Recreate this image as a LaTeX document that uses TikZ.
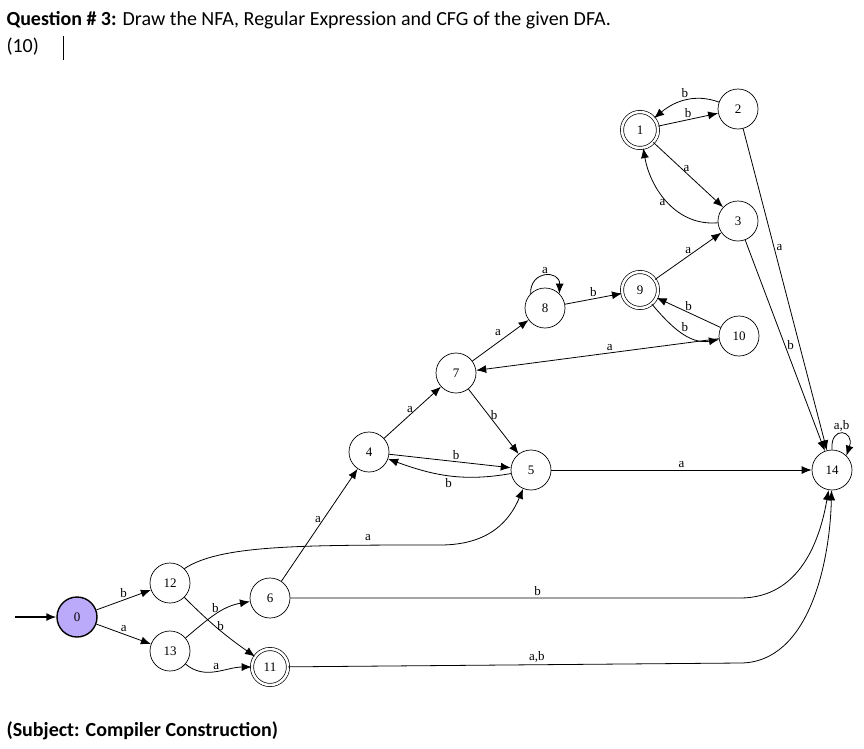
\documentclass[tikz,border=0pt]{standalone}
\usepackage{fontspec}
\setmainfont{Liberation Serif}
\newfontfamily\calfont{Carlito}
\usetikzlibrary{arrows.meta}
\begin{document}
\begin{tikzpicture}[x=1pt,y=-1pt,
 st/.style={circle,draw,minimum size=40pt,inner sep=0pt,line width=0.7pt,font=\fontsize{13}{13}\selectfont},
 acc/.style={st,double,double distance=2.5pt,minimum size=36pt},
 e/.style={-{Latex[length=10pt,width=8pt]},line width=0.8pt},
 lb/.style={font=\fontsize{13}{13}\selectfont,inner sep=2pt}]
\useasboundingbox (0,0) rectangle (864,748);
\node[anchor=west,font=\calfont\fontsize{20}{20}\selectfont] at (3,20) {\textbf{Question \# 3:} Draw the NFA, Regular Expression and CFG of the given DFA.};
\node[anchor=west,font=\calfont\fontsize{20}{20}\selectfont] at (3,47) {(10)};
\draw[line width=0.8pt] (63,36) -- (63,60);
\node[anchor=west,font=\calfont\bfseries\fontsize{20}{20}\selectfont] at (3,731) {(Subject: Compiler Construction)};
\node[st,fill={rgb,255:red,187;green,170;blue,250},line width=1.4pt] (n0) at (77,617) {0};
\node[st] (n12) at (170,583) {12};
\node[st] (n13) at (170,651) {13};
\node[st] (n6) at (270,598) {6};
\node[acc] (n11) at (270,667) {11};
\node[st] (n4) at (369,452) {4};
\node[st] (n5) at (531,470) {5};
\node[st] (n7) at (456,373) {7};
\node[st] (n8) at (545,308) {8};
\node[acc] (n9) at (640,290) {9};
\node[st] (n10) at (739,336) {10};
\node[st] (n3) at (738,221) {3};
\node[acc] (n1) at (640,130) {1};
\node[st] (n2) at (738,109) {2};
\node[st] (n14) at (832,470) {14};
\coordinate (s) at (15,617);
\draw[e,line width=1.4pt] (s) -- (n0);
\draw[e] (n0) -- node[lb,above]{b} (n12);
\draw[e] (n0) -- node[lb,above]{a} (n13);
\draw[e] (n12) to[out=-45,in=145] node[lb,pos=0.45,right]{b} (n11);
\draw[e] (n13) to[out=40,in=190] node[lb,pos=0.5,above]{b} (n6);
\draw[e] (n13) to[out=-40,in=180] node[lb,above]{a} (n11);
\draw[e] (n12.north east) .. controls (220,545) and (300,545) .. (440,545) .. controls (490,545) and (510,520) .. (n5);
\node[lb] (la) at (368,538) {a};
\draw[e] (n6) -- node[lb,pos=0.55,left]{a} (n4);
\draw[e] (n6) -- node[lb,pos=0.55,above]{b} (740,598) .. controls (800,598) and (820,540) .. (n14);
\draw[e] (n11) -- node[lb,pos=0.55,above]{a,b} (740,663) .. controls (810,663) and (830,560) .. (n14);
\draw[e] (n4) -- node[lb,pos=0.55,left]{a} (n7);
\draw[e] (n4) -- node[lb,pos=0.55,above]{b} (n5);
\draw[e] (n5) to[out=190,in=-20] node[lb,pos=0.5,below]{b} (n4);
\draw[e] (n7) -- node[lb,pos=0.55,above left]{a} (n8);
\draw[e] (n7) -- node[lb,pos=0.4,right]{b} (n5);
\draw[e] (n8.north west) .. controls (530,270) and (560,270) .. node[lb,above]{a} (n8.north east);
\draw[e] (n8) -- node[lb,pos=0.5,above]{b} (n9);
\draw[e] (n9) -- node[lb,pos=0.5,above]{a} (n3);
\draw[e] (n9) to[out=-50,in=190] node[lb,pos=0.55,above]{b} (n10);
\draw[e] (n10) -- node[lb,pos=0.5,above]{b} (n9);
\draw[e] (n10) -- node[lb,pos=0.45,above]{a} (n7);
\draw[e] (n1) -- node[lb,pos=0.5,above]{b} (n2);
\draw[e] (n2) to[out=160,in=40] node[lb,above]{b} (n1);
\draw[e] (n1) -- node[lb,pos=0.4,right]{a} (n3);
\draw[e] (n3) to[out=185,in=-80] node[lb,pos=0.5,left]{a} (n1);
\draw[e] (n2) -- node[lb,pos=0.37,right]{a} (n14);
\draw[e] (n3) -- node[lb,pos=0.5,right]{b} (n14);
\draw[e] (n5) -- node[lb,above]{a} (n14);
\draw[e] (n14.north) .. controls (830,425) and (855,430) .. node[lb,above]{a,b} (n14.north east);
\end{tikzpicture}
\end{document}
